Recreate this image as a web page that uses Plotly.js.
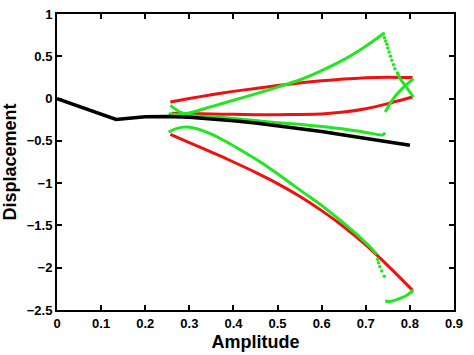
<!DOCTYPE html>
<html>
<head>
<meta charset="utf-8">
<script src="https://cdn.plot.ly/plotly-3.0.1.min.js"></script>
<style>html,body{margin:0;padding:0;background:#fff;}#chart{width:474px;height:355px;}</style>
</head>
<body>
<div id="chart"></div>
<script>
// Black branch
const blackX = [0, 0.134, 0.2, 0.25, 0.3, 0.35, 0.4, 0.45, 0.5, 0.55, 0.6, 0.65, 0.7, 0.75, 0.8];
const blackY = [0, -0.247, -0.215, -0.213, -0.222, -0.24, -0.262, -0.29, -0.32, -0.355, -0.39, -0.43, -0.47, -0.51, -0.552];

// Red branches
const redUpperX = [0.257, 0.3, 0.35, 0.4, 0.45, 0.5, 0.55, 0.6, 0.65, 0.7, 0.75, 0.806];
const redUpperY = [-0.04, 0.0, 0.045, 0.085, 0.12, 0.155, 0.185, 0.21, 0.23, 0.245, 0.252, 0.248];
const redLowerX = [0.26, 0.3, 0.35, 0.4, 0.45, 0.5, 0.55, 0.6, 0.65, 0.7, 0.75, 0.806];
const redLowerY = [-0.175, -0.178, -0.182, -0.186, -0.19, -0.19, -0.188, -0.182, -0.16, -0.12, -0.06, 0.018];
const redBigX = [0.257, 0.3, 0.35, 0.4, 0.45, 0.5, 0.55, 0.6, 0.65, 0.7, 0.75, 0.806];
const redBigY = [-0.423, -0.52, -0.632, -0.75, -0.872, -1.005, -1.155, -1.325, -1.515, -1.73, -1.975, -2.267];

// Green branches
const greenUpX = [0.257, 0.279, 0.295, 0.35, 0.4, 0.45, 0.5, 0.55, 0.6, 0.65, 0.7, 0.74];
const greenUpY = [-0.08, -0.16, -0.175, -0.095, -0.02, 0.055, 0.135, 0.22, 0.33, 0.46, 0.62, 0.767];
const greenDotX = [0.740, 0.742, 0.745, 0.748, 0.750, 0.753, 0.756, 0.759, 0.763, 0.766, 0.772];
const greenDotY = [0.767, 0.720, 0.680, 0.641, 0.597, 0.550, 0.499, 0.452, 0.401, 0.353, 0.301];
const greenDownX = [0.772, 0.778, 0.789, 0.8, 0.808];
const greenDownY = [0.301, 0.235, 0.156, 0.077, 0.018];
const greenCrossX = [0.744, 0.755, 0.767, 0.785, 0.808];
const greenCrossY = [-0.16, -0.06, 0.03, 0.13, 0.235];
const greenMidX = [0.253, 0.3, 0.35, 0.4, 0.45, 0.5, 0.55, 0.6, 0.65, 0.7, 0.73, 0.738, 0.744];
const greenMidY = [-0.179, -0.2, -0.215, -0.235, -0.26, -0.285, -0.305, -0.33, -0.36, -0.4, -0.428, -0.43, -0.405];
const greenBigX = [0.253, 0.27, 0.295, 0.317, 0.35, 0.385, 0.42, 0.461, 0.5, 0.528, 0.56, 0.604, 0.64, 0.664, 0.69, 0.71, 0.725];
const greenBigY = [-0.396, -0.355, -0.337, -0.356, -0.42, -0.514, -0.62, -0.75, -0.89, -0.995, -1.115, -1.28, -1.43, -1.535, -1.655, -1.755, -1.84];
const greenBigDotX = [0.727, 0.729, 0.732, 0.736, 0.742];
const greenBigDotY = [-1.90, -1.94, -1.99, -2.04, -2.10];
const greenBottomX = [0.744, 0.755, 0.77, 0.793, 0.808];
const greenBottomY = [-2.394, -2.40, -2.377, -2.326, -2.267];

const RED = '#f01010';
const GREEN = '#22e622';

function lineTrace(x, y, color, w) {
  return {x: x, y: y, mode: 'lines', line: {color: color, width: w, shape: 'spline', smoothing: 0.6}, hoverinfo: 'skip', showlegend: false};
}
function dotTrace(x, y, color) {
  return {x: x, y: y, mode: 'markers', marker: {color: color, size: 3.5}, hoverinfo: 'skip', showlegend: false};
}

const data = [
  lineTrace(redUpperX, redUpperY, RED, 3),
  lineTrace(redLowerX, redLowerY, RED, 3),
  lineTrace(redBigX, redBigY, RED, 3),
  lineTrace(greenUpX, greenUpY, GREEN, 3),
  dotTrace(greenDotX, greenDotY, GREEN),
  lineTrace(greenDownX, greenDownY, GREEN, 3),
  lineTrace(greenCrossX, greenCrossY, GREEN, 3),
  lineTrace(greenMidX, greenMidY, GREEN, 3),
  lineTrace(greenBigX, greenBigY, GREEN, 3),
  dotTrace(greenBigDotX, greenBigDotY, GREEN),
  lineTrace(greenBottomX, greenBottomY, GREEN, 3),
  {x: blackX, y: blackY, mode: 'lines', line: {color: '#000', width: 3.5}, hoverinfo: 'skip', showlegend: false}
];

const FONT = 'Liberation Sans, Arial, sans-serif';
const layout = {
  width: 474, height: 355,
  margin: {l: 57, r: 20, t: 14, b: 45},
  paper_bgcolor: '#fff', plot_bgcolor: '#fff',
  showlegend: false,
  font: {family: FONT, color: '#000'},
  xaxis: {
    range: [0, 0.9], dtick: 0.1, tick0: 0,
    ticks: 'inside', ticklen: 5, tickwidth: 2, tickcolor: '#000',
    showline: true, linewidth: 2, linecolor: '#000', mirror: 'ticks',
    showgrid: false, zeroline: false,
    tickfont: {family: FONT, size: 13, weight: 'bold', color: '#000'},
    title: {text: 'Amplitude', font: {family: FONT, size: 18, weight: 'bold', color: '#000'}, standoff: 6}
  },
  yaxis: {
    range: [-2.5, 1], dtick: 0.5, tick0: 0,
    ticks: 'inside', ticklen: 5, tickwidth: 2, tickcolor: '#000',
    showline: true, linewidth: 2, linecolor: '#000', mirror: 'ticks',
    showgrid: false, zeroline: false,
    tickfont: {family: FONT, size: 13, weight: 'bold', color: '#000'},
    title: {text: 'Displacement', font: {family: FONT, size: 18, weight: 'bold', color: '#000'}, standoff: 8}
  }
};

Plotly.newPlot('chart', data, layout, {staticPlot: true, displayModeBar: false});
</script>
</body>
</html>
